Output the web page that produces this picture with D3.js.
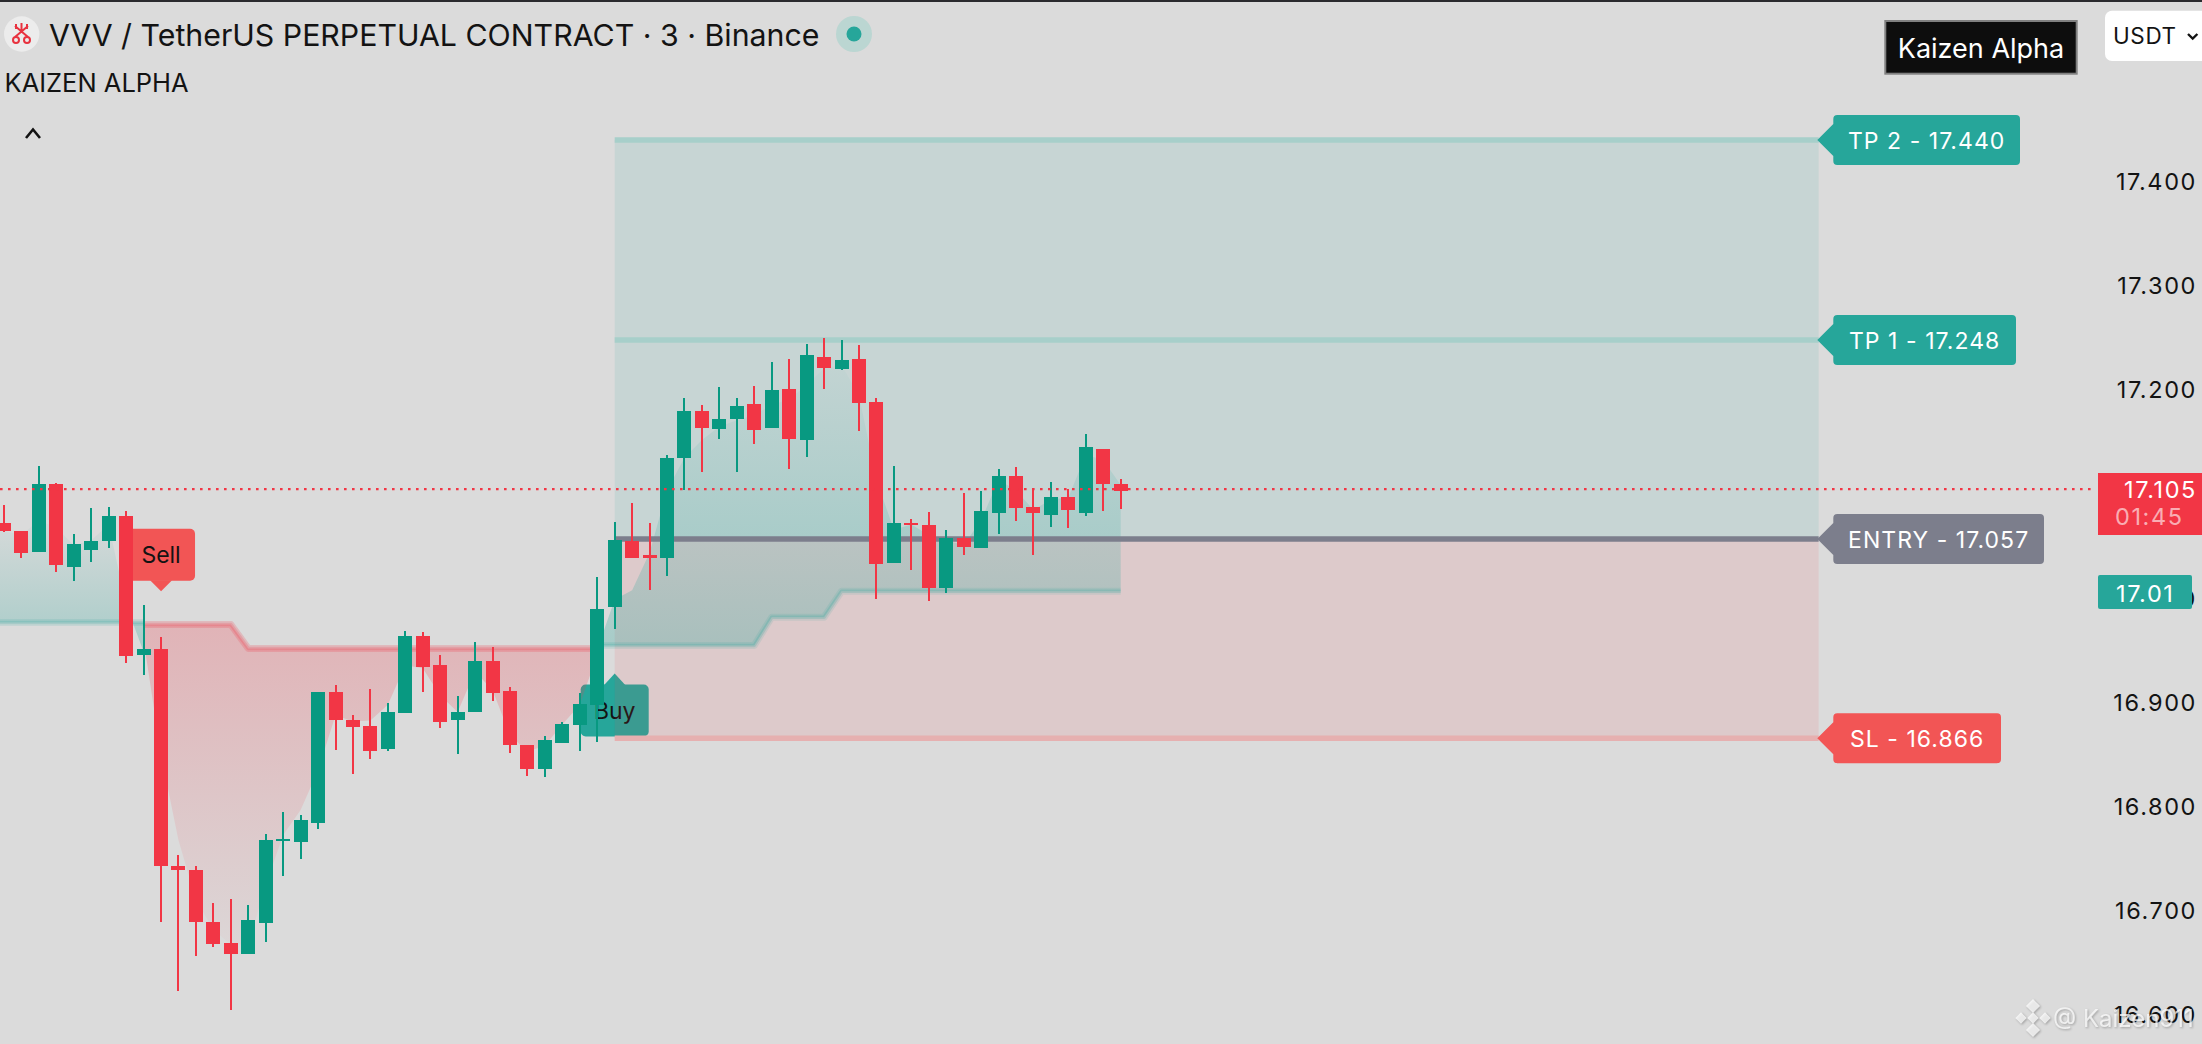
<!DOCTYPE html>
<html>
<head>
<meta charset="utf-8">
<script src="https://cdn.jsdelivr.net/npm/d3@7"></script>
<style>
  html, body { margin: 0; padding: 0; background: #dbdbdb; overflow: hidden; }
  text { font-family: Inter, "Liberation Sans", sans-serif; }
</style>
</head>
<body>
<svg id="chart" width="2202" height="1044"></svg>
<script>
// candles, left to right, prices
let opens = [17.072,17.065,17.045,17.110,17.030,17.047,17.055,17.079,16.946,16.952,16.743,16.739,16.690,16.669,16.659,16.689,16.767,16.766,16.785,16.910,16.883,16.878,16.856,16.890,16.964,16.936,16.883,16.891,16.940,16.911,16.859,16.836,16.861,16.879,16.898,16.992,17.055,17.042,17.039,17.135,17.180,17.163,17.172,17.187,17.164,17.201,17.152,17.232,17.220,17.230,17.189,17.034,17.072,17.071,17.010,17.058,17.048,17.082,17.118,17.088,17.080,17.097,17.082,17.143,17.110]
let highs = [17.090,17.065,17.127,17.111,17.062,17.087,17.088,17.084,16.994,16.963,16.754,16.743,16.708,16.712,16.706,16.774,16.795,16.792,16.910,16.917,16.888,16.913,16.900,16.969,16.968,16.946,16.906,16.958,16.953,16.915,16.859,16.868,16.881,16.909,17.021,17.073,17.092,17.072,17.138,17.192,17.186,17.203,17.192,17.204,17.227,17.230,17.244,17.250,17.248,17.243,17.192,17.127,17.076,17.083,17.066,17.101,17.103,17.124,17.126,17.106,17.112,17.105,17.158,17.143,17.115]
let lows = [17.064,17.039,17.045,17.025,17.017,17.035,17.048,16.938,16.927,16.690,16.623,16.657,16.666,16.605,16.659,16.670,16.734,16.750,16.779,16.855,16.832,16.846,16.854,16.890,16.910,16.876,16.851,16.891,16.902,16.852,16.830,16.829,16.861,16.854,16.862,16.971,17.039,17.008,17.022,17.104,17.121,17.153,17.121,17.148,17.164,17.124,17.136,17.201,17.219,17.161,17.000,17.034,17.027,16.998,17.005,17.042,17.048,17.062,17.074,17.042,17.069,17.068,17.079,17.084,17.086]
let closes = [17.065,17.044,17.110,17.032,17.052,17.055,17.079,16.945,16.952,16.743,16.739,16.690,16.668,16.659,16.691,16.768,16.769,16.787,16.910,16.883,16.877,16.854,16.891,16.964,16.934,16.881,16.891,16.940,16.909,16.859,16.836,16.864,16.880,16.899,16.990,17.056,17.039,17.039,17.135,17.180,17.164,17.172,17.185,17.162,17.200,17.153,17.234,17.221,17.229,17.188,17.033,17.072,17.071,17.010,17.058,17.049,17.084,17.118,17.087,17.082,17.097,17.085,17.145,17.110,17.103]

// trailing stop levels and the outer edge of the shading against it
let leftTrail = [16.977,16.977,16.977,16.977,16.977,16.977,16.977,16.977,16.977,16.977]
let leftEdge = [17.068,17.065,17.061,17.075,17.068,17.051,17.056,17.071,16.994,16.949]
let leftStart = -1

let sellTrail = [16.975,16.975,16.975,16.975,16.975,16.975,16.952,16.952,16.952,16.952,16.952,16.952,16.952,16.952,16.952,16.952,16.952,16.952,16.952,16.952,16.952,16.952,16.952,16.952,16.952,16.952,16.952]
let sellEdge = [16.960,16.850,16.768,16.711,16.682,16.668,16.668,16.725,16.773,16.797,16.835,16.888,16.882,16.883,16.898,16.936,16.933,16.907,16.891,16.930,16.912,16.869,16.853,16.859,16.879,16.898,16.946]
let sellStart = 8

let buyTrail = [16.955,16.955,16.955,16.955,16.955,16.955,16.955,16.955,16.955,16.955,16.982,16.982,16.982,16.982,17.007,17.007,17.007,17.007,17.007,17.007,17.007,17.007,17.007,17.007,17.007,17.007,17.007,17.007,17.007,17.007,17.007]
let buyEdge = [16.951,16.999,17.008,17.044,17.104,17.135,17.152,17.165,17.171,17.176,17.186,17.191,17.205,17.221,17.224,17.195,17.114,17.066,17.071,17.061,17.056,17.051,17.075,17.114,17.104,17.085,17.095,17.097,17.138,17.133,17.109]
let buyStart = 34

// signals: label, candle index, price at the pointer tip
let signalNames = ["Sell", "Buy"]
let signalIndex = [9, 35]
let signalPrice = [17.007, 16.928]

// trade box
let levelNames = ["TP 2 - 17.440", "TP 1 - 17.248", "ENTRY - 17.057", "SL - 16.866"]
let levelPrices = [17.440, 17.248, 17.057, 16.866]
let boxStartIndex = 35
let boxEndIndex = 104

let axisTicks = [17.4, 17.3, 17.2, 17.1, 17.0, 16.9, 16.8, 16.7, 16.6]
let lastPrice = 17.105
let countdown = "01:45"
let stopTag = "17.01"
let stopTagPrice = 17.005

let green = "#089981"
let red = "#f23645"
let tagGreen = "#26a69a"
let tagRed = "#f25555"
let tagGrey = "#7c7e8c"

let svg = d3.select("#chart")
let xscale = d3.scaleLinear().domain([0, 64]).range([4, 1120.7])
let yscale = d3.scaleLinear().domain([16.6, 17.4]).range([1015.3, 181.7])

// top border
svg.append("rect").attr("width", 2202).attr("height", 2).attr("fill", "#2a2a2e")

// shading gradients
let defs = svg.append("defs")
function addGradient(id, color, a0, a1){
    let g = defs.append("linearGradient").attr("id", id).attr("x1", 0).attr("x2", 0).attr("y1", 0).attr("y2", 1)
    g.append("stop").attr("offset", 0).attr("stop-color", color).attr("stop-opacity", a0)
    g.append("stop").attr("offset", 1).attr("stop-color", color).attr("stop-opacity", a1)
}
addGradient("fadeUp", "#26a69a", 0.03, 0.29)
addGradient("fadeDown", "#f23645", 0.24, 0.03)

// signal bubbles sit under everything else
function drawSignal(i){
    let cx = xscale(signalIndex[i])
    let tip = yscale(signalPrice[i])
    let up = signalNames[i] == "Buy"
    let top = up ? tip + 11 : tip - 62.5
    let g = svg.append("g")
    let fill = up ? tagGreen : tagRed
    g.append("rect").attr("x", cx - 34).attr("y", top).attr("width", 68).attr("height", 52).attr("rx", 5).attr("fill", fill)
    let base = up ? tip + 12 : tip - 11
    g.append("path").attr("d", "M" + (cx - 11) + "," + base + "L" + cx + "," + tip + "L" + (cx + 11) + "," + base + "Z").attr("fill", fill)
    g.append("text").attr("x", cx).attr("y", top + 26).attr("dy", "0.36em").attr("text-anchor", "middle")
        .attr("fill", "#131313").style("font-size", "23px").text(signalNames[i])
}
signalNames.forEach((d, i) => drawSignal(i))

// trade box
let boxX0 = xscale(boxStartIndex)
let boxX1 = xscale(boxEndIndex)
svg.append("rect").attr("x", boxX0).attr("y", yscale(levelPrices[0])).attr("width", boxX1 - boxX0)
    .attr("height", yscale(levelPrices[2]) - yscale(levelPrices[0])).attr("fill", "#26a69a").attr("fill-opacity", 0.11)
svg.append("rect").attr("x", boxX0).attr("y", yscale(levelPrices[2])).attr("width", boxX1 - boxX0)
    .attr("height", yscale(levelPrices[3]) - yscale(levelPrices[2])).attr("fill", "#f23645").attr("fill-opacity", 0.1)

// shading between the trail and the candles
function drawZone(trail, edge, start, fill, lineColor, haloAlpha){
    let pts = trail.map((d, i) => ({i: start + i, t: d, e: edge[i]}))
    let area = d3.area().x(d => xscale(d.i)).y0(d => yscale(d.t)).y1(d => yscale(d.e))
    svg.append("path").datum(pts).attr("d", area).attr("fill", "url(#" + fill + ")")
    let line = d3.line().x(d => xscale(d.i)).y(d => yscale(d.t))
    svg.append("path").datum(pts).attr("d", line).attr("fill", "none").attr("stroke", lineColor)
        .attr("stroke-width", 7).attr("stroke-opacity", haloAlpha).attr("stroke-linejoin", "round")
    svg.append("path").datum(pts).attr("d", line).attr("fill", "none").attr("stroke", lineColor)
        .attr("stroke-width", 3.5).attr("stroke-opacity", 0.2).attr("stroke-linejoin", "round")
}
drawZone(leftTrail, leftEdge, leftStart, "fadeUp", "#26a69a", 0.12)
drawZone(sellTrail, sellEdge, sellStart, "fadeDown", "#f23645", 0.2)
drawZone(buyTrail, buyEdge, buyStart, "fadeUp", "#26a69a", 0.12)

// level lines
let lineColors = ["#a7cfca", "#a7cfca", tagGrey, "#e6b0b0"]
levelPrices.forEach((d, i) => {
    svg.append("line").attr("x1", boxX0).attr("x2", boxX1).attr("y1", yscale(d)).attr("y2", yscale(d))
        .attr("stroke", lineColors[i]).attr("stroke-width", 5.5)
})

// candles
let candles = svg.append("g").attr("shape-rendering", "crispEdges")
opens.forEach((o, i) => {
    let c = closes[i]
    let color = c >= o ? green : red
    let cx = xscale(i)
    candles.append("rect").attr("x", cx - 1).attr("width", 2).attr("y", yscale(highs[i]))
        .attr("height", yscale(lows[i]) - yscale(highs[i])).attr("fill", color)
    candles.append("rect").attr("x", cx - 7).attr("width", 14).attr("y", yscale(Math.max(o, c)))
        .attr("height", Math.max(2, Math.abs(yscale(o) - yscale(c)))).attr("fill", color)
})

// last price line
svg.append("line").attr("x1", 0).attr("x2", 2092).attr("y1", yscale(lastPrice)).attr("y2", yscale(lastPrice))
    .attr("stroke", red).attr("stroke-width", 2.4).attr("stroke-dasharray", "2.6 5.4")

// price axis
let yAxis = d3.axisRight(yscale).tickValues(axisTicks).tickSize(0).tickPadding(0).tickFormat(d3.format(".3f"))
let axisG = svg.append("g").attr("transform", "translate(2197,0)").call(yAxis)
axisG.select(".domain").remove()
axisG.selectAll("text").attr("text-anchor", "end").attr("fill", "#131313").style("font-size", "23.5px")
    .style("font-family", "Inter, sans-serif").style("letter-spacing", "1.6px")

// level tags on the right of the box
let tagRights = [2020, 2016, 2044, 2001]
let tagColors = [tagGreen, tagGreen, tagGrey, tagRed]
levelNames.forEach((name, i) => {
    let cy = yscale(levelPrices[i])
    let x0 = 1833.3
    let x1 = tagRights[i]
    let h = 25
    let r = 4
    let d = "M" + (x0 - 16) + "," + cy + "L" + x0 + "," + (cy - 16) + "L" + x0 + "," + (cy - h + r)
        + "Q" + x0 + "," + (cy - h) + "," + (x0 + r) + "," + (cy - h) + "L" + (x1 - r) + "," + (cy - h)
        + "Q" + x1 + "," + (cy - h) + "," + x1 + "," + (cy - h + r) + "L" + x1 + "," + (cy + h - r)
        + "Q" + x1 + "," + (cy + h) + "," + (x1 - r) + "," + (cy + h) + "L" + (x0 + r) + "," + (cy + h)
        + "Q" + x0 + "," + (cy + h) + "," + x0 + "," + (cy + h - r) + "L" + x0 + "," + (cy + 16) + "Z"
    svg.append("path").attr("d", d).attr("fill", tagColors[i])
    svg.append("text").attr("x", (x0 + x1) / 2).attr("y", cy + 0.5).attr("dy", "0.36em").attr("text-anchor", "middle")
        .attr("fill", "#ffffff").style("font-size", "23px").style("letter-spacing", "1.05px").text(name)
})

// last price tag
svg.append("rect").attr("x", 2098).attr("y", 473).attr("width", 104).attr("height", 62).attr("fill", red)
svg.append("text").attr("x", 2197).attr("y", yscale(lastPrice)).attr("dy", "0.36em").attr("text-anchor", "end")
    .attr("fill", "#ffffff").style("font-size", "23.5px").style("letter-spacing", "1.6px").text(d3.format(".3f")(lastPrice))
svg.append("text").attr("x", 2115).attr("y", 517).attr("dy", "0.36em")
    .attr("fill", "#ffffff").attr("fill-opacity", 0.6).style("font-size", "23.5px").style("letter-spacing", "1.6px").text(countdown)

// trail price tag
svg.append("rect").attr("x", 2098).attr("y", 575).attr("width", 94).attr("height", 34).attr("rx", 2).attr("fill", tagGreen)
svg.append("text").attr("x", 2116).attr("y", yscale(stopTagPrice)).attr("dy", "0.36em")
    .attr("fill", "#ffffff").style("font-size", "23.5px").style("letter-spacing", "1.6px").text(stopTag)

// header
svg.append("circle").attr("cx", 21.7).attr("cy", 34).attr("r", 17.7).attr("fill", "#ececec")
let logo = svg.append("g").attr("fill", "none").attr("stroke", "#e8323f").attr("stroke-width", 2)
logo.append("path").attr("d", "M15,26L28,37M28,26L15,37M21.5,23V31M16,24V29M27,24V29")
logo.append("circle").attr("cx", 16).attr("cy", 40).attr("r", 3)
logo.append("circle").attr("cx", 27).attr("cy", 40).attr("r", 3)

svg.append("text").attr("x", 49).attr("y", 45.7).attr("fill", "#131313").style("font-size", "30.3px")
    .text("VVV / TetherUS PERPETUAL CONTRACT · 3 · Binance")
svg.append("circle").attr("cx", 854).attr("cy", 34).attr("r", 18).attr("fill", "#bbd6d2")
svg.append("circle").attr("cx", 854).attr("cy", 34).attr("r", 7.5).attr("fill", tagGreen)
svg.append("text").attr("x", 4.5).attr("y", 92).attr("fill", "#131313").style("font-size", "25.5px").text("KAIZEN ALPHA")
svg.append("path").attr("d", "M26,138L33,129.5L40,138").attr("fill", "none").attr("stroke", "#131313").attr("stroke-width", 2.6)

// top right badge and currency select
svg.append("rect").attr("x", 1885.3).attr("y", 21).attr("width", 191.4).attr("height", 52.7)
    .attr("fill", "#0d0d0d").attr("stroke", "#808080").attr("stroke-width", 2)
svg.append("text").attr("x", 1981).attr("y", 58).attr("text-anchor", "middle").attr("fill", "#ffffff")
    .style("font-size", "27px").text("Kaizen Alpha")
svg.append("rect").attr("x", 2105).attr("y", 10.7).attr("width", 110).attr("height", 50.3).attr("rx", 7).attr("fill", "#ffffff")
svg.append("text").attr("x", 2113).attr("y", 44.3).attr("fill", "#131313").style("font-size", "22.5px").style("letter-spacing", "0.6px").text("USDT")
svg.append("path").attr("d", "M2188,34L2192.7,38.5L2197.4,34").attr("fill", "none").attr("stroke", "#131313").attr("stroke-width", 2.4)

// watermark
let mark = svg.append("g").attr("fill", "#ffffff").attr("fill-opacity", 0.75)
    .style("filter", "drop-shadow(1px 1px 1px rgba(0,0,0,0.35))")
let diamonds = [[2033, 1006, 5], [2021, 1018, 4], [2045, 1018, 4], [2033, 1018, 4], [2033, 1030, 5]]
diamonds.forEach(d => {
    mark.append("rect").attr("x", -d[2]).attr("y", -d[2]).attr("width", d[2] * 2).attr("height", d[2] * 2)
        .attr("transform", "translate(" + d[0] + "," + d[1] + ") rotate(45)")
})
mark.append("text").attr("x", 2053).attr("y", 1018).attr("dy", "0.36em").style("font-size", "24px").text("@ Kaizen911")
</script>
</body>
</html>
